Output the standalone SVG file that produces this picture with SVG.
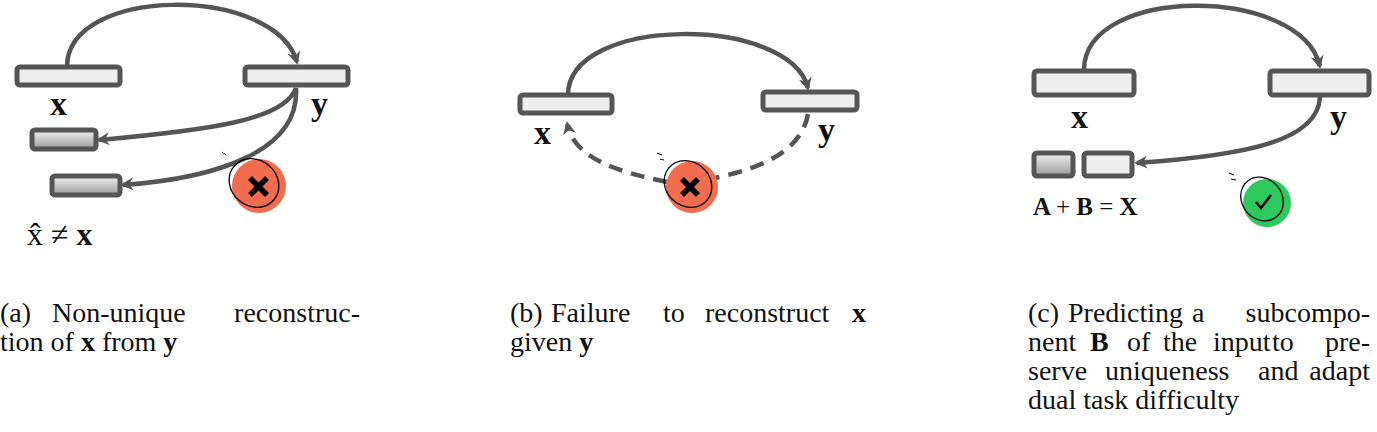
<svg xmlns="http://www.w3.org/2000/svg" width="1377" height="432" viewBox="0 0 1377 432">
<defs>
<linearGradient id="g" x1="0" y1="0" x2="0" y2="1"><stop offset="0" stop-color="#f2f2f2"/><stop offset="1" stop-color="#9a9a9a"/></linearGradient>
<marker id="ah" viewBox="0 0 12 12" refX="10" refY="6" markerWidth="6" markerHeight="6" orient="auto" markerUnits="userSpaceOnUse" style="overflow:visible"><path d="M0,0 L12,6 L0,12 L4,6 Z" fill="#555" transform="scale(2.2) translate(-5,-3)"/></marker>
<style>
.box{fill:#eee;stroke:#555;stroke-width:5}
.gbox{fill:url(#g);stroke:#555;stroke-width:5}
.c{fill:none;stroke:#555;stroke-width:4.5}
.d{fill:none;stroke:#555;stroke-width:4.5;stroke-dasharray:14 9}
.m{font-family:"Liberation Serif",serif;font-size:34px;font-weight:bold;fill:#111}
.cap{font-family:"Liberation Serif",serif;font-size:28px;fill:#111}
.e{text-anchor:end}
.b{font-weight:bold}
.x{stroke:#000;stroke-width:5.5;stroke-linecap:butt}
</style>
</defs>
<g id="connectors">
<path class="c" d="M67,67 C67,-15 275,-15 297,62" marker-end="url(#ah)"/>
<path class="c" d="M296,88 C285,120 210,130 99,140" marker-end="url(#ah)"/>
<path class="c" d="M296,88 C300,150 220,178 123,185" marker-end="url(#ah)"/>
<path class="c" d="M568,95 C568,15 790,15 808,88" marker-end="url(#ah)"/>
<path class="d" d="M808,114 C800,160 740,172 715,178"/>
<path class="d" d="M667,182 C620,172 575,160 567,124" marker-end="url(#ah)"/>
<path class="c" d="M1084,70 C1084,-15 1300,-15 1320,66" marker-end="url(#ah)"/>
<path class="c" d="M1320,97 C1318,140 1250,155 1137,163" marker-end="url(#ah)"/>
</g>
<g id="a-x"><rect class="box" x="17" y="67" width="103" height="18" rx="3"/><text class="m" x="50" y="115">x</text></g>
<g id="a-y"><rect class="box" x="245" y="67" width="103" height="18" rx="3"/><text class="m" x="311" y="115">y</text></g>
<g id="a-r1"><rect class="gbox" x="32" y="130" width="64" height="19" rx="3"/></g>
<g id="a-r2"><rect class="gbox" x="52" y="176" width="68" height="19" rx="3"/><text class="m" x="27" y="245" style="font-weight:normal;font-size:32px">x̂ ≠ <tspan class="b">x</tspan></text></g>
<g id="a-fail"><circle cx="259" cy="186" r="27" fill="#f26c4f"/><ellipse cx="254" cy="183" rx="26" ry="23" fill="none" stroke="#000" stroke-width="1.3" transform="rotate(40 254 183)"/><path class="x" d="M250,178 L267,195 M267,178 L250,195"/><path d="M222,152 l4,3" stroke="#000" stroke-width="1"/></g>
<g id="b-x"><rect class="box" x="520" y="95" width="92" height="18" rx="3"/><text class="m" x="534" y="144">x</text></g>
<g id="b-y"><rect class="box" x="763" y="92" width="94" height="18" rx="3"/><text class="m" x="818" y="141">y</text></g>
<g id="b-fail"><circle cx="692" cy="187" r="26" fill="#f26c4f"/><ellipse cx="688" cy="184" rx="25" ry="22" fill="none" stroke="#000" stroke-width="1.3" transform="rotate(40 688 184)"/><path class="x" d="M682,179 L698,195 M698,179 L682,195"/><path d="M657,153 l5,2 M660,159 l4,1" stroke="#000" stroke-width="1"/></g>
<g id="c-x"><rect class="box" x="1034" y="71" width="100" height="24" rx="3"/><text class="m" x="1071" y="128">x</text></g>
<g id="c-y"><rect class="box" x="1270" y="71" width="99" height="24" rx="3"/><text class="m" x="1330" y="128">y</text></g>
<g id="c-a"><rect class="gbox" x="1034" y="153" width="39" height="23" rx="3"/></g>
<g id="c-b"><rect class="box" x="1084" y="153" width="48" height="23" rx="3"/><text class="m" x="1033" y="215" style="font-size:25px">A <tspan style="font-weight:normal">+</tspan> B <tspan style="font-weight:normal">=</tspan> X</text></g>
<g id="c-ok"><circle cx="1267" cy="203" r="24" fill="#2ec95c"/><ellipse cx="1262" cy="199" rx="23" ry="20" fill="none" stroke="#000" stroke-width="1.3" transform="rotate(50 1262 199)"/><path d="M1256,202 l5,6 l10,-13" fill="none" stroke="#000" stroke-width="2.5"/><path d="M1229,173 l5,2 M1231,179 l5,1" stroke="#000" stroke-width="1"/></g>
<g id="captions">
<text class="cap" x="0" y="322">(a)</text><text class="cap" x="52" y="322">Non-unique</text><text class="cap e" x="360" y="322">reconstruc-</text>
<text class="cap" x="0" y="351">tion of <tspan class="b">x</tspan> from <tspan class="b">y</tspan></text>
<text class="cap" x="510" y="322">(b)</text><text class="cap" x="551" y="322">Failure</text><text class="cap" x="663" y="322">to</text><text class="cap" x="705" y="322">reconstruct</text><text class="cap e b" x="866" y="322">x</text>
<text class="cap" x="510" y="351">given <tspan class="b">y</tspan></text>
<text class="cap" x="1028" y="322">(c)</text><text class="cap" x="1068" y="322">Predicting</text><text class="cap" x="1192" y="322">a</text><text class="cap e" x="1370" y="322">subcompo-</text>
<text class="cap" x="1028" y="351">nent</text><text class="cap b" x="1090" y="351">B</text><text class="cap" x="1127" y="351">of</text><text class="cap" x="1163" y="351">the</text><text class="cap" x="1213" y="351">input</text><text class="cap" x="1272" y="351">to</text><text class="cap e" x="1370" y="351">pre-</text>
<text class="cap" x="1028" y="380">serve</text><text class="cap" x="1105" y="380">uniqueness</text><text class="cap" x="1258" y="380">and</text><text class="cap e" x="1370" y="380">adapt</text>
<text class="cap" x="1028" y="409">dual task difficulty</text>
</g>
</svg>
